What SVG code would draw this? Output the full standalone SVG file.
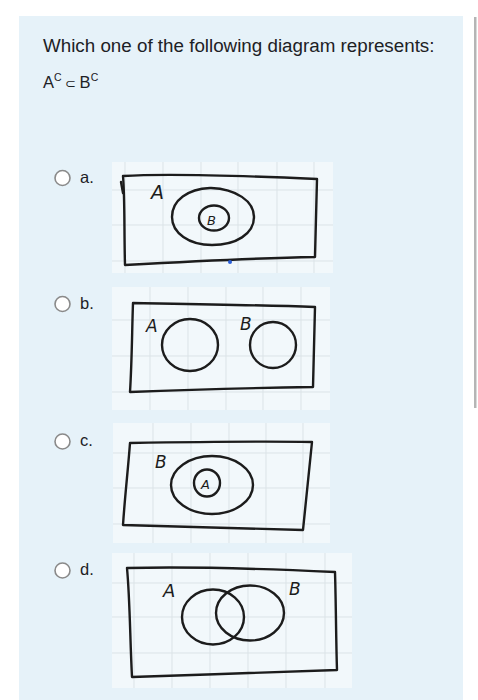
<svg xmlns="http://www.w3.org/2000/svg" width="478" height="700" viewBox="0 0 478 700">
<defs>
<style>
.t{font-family:"Liberation Sans",Arial,sans-serif;fill:#1d2125;}
.radio{fill:#ffffff;stroke:#8a8a8a;stroke-width:1.6;}
.img{fill:#f2f8fb;}
.grid{stroke:#dbe3e7;stroke-width:1;fill:none;}
.ink{fill:none;stroke:#1c1c1c;stroke-width:2.4;stroke-linecap:round;stroke-linejoin:round;}
.hw{font-family:"DejaVu Sans","Liberation Sans",sans-serif;fill:#1c1c1c;font-style:italic;}
</style>
</defs>
<rect x="0" y="0" width="478" height="700" fill="#ffffff"/>
<rect x="19" y="16" width="444" height="684" fill="#e6f2f9"/>
<rect x="474" y="17" width="2.5" height="391" fill="#b5b5b5"/>

<g id="question">
<text class="t" x="43" y="52" font-size="18.8">Which one of the following diagram represents:</text>
<text class="t" x="43" y="88" font-size="16.5">A<tspan font-size="10.5" dy="-7">C</tspan><tspan dy="7" dx="3" font-size="13">⊂</tspan><tspan dx="4">B</tspan><tspan font-size="10.5" dy="-7">C</tspan></text>
</g>

<g id="option-a">
<circle class="radio" cx="62.5" cy="178" r="7.5"/>
<text class="t" x="80" y="183" font-size="16.5">a.</text>
<rect class="img" x="112" y="162" width="221" height="111"/>
<path class="grid" d="M125 162V273M163 162V273M201 162V273M238 162V273M277 162V273M314 162V273M112 190H333M112 225H333M112 261H333"/>
<path class="ink" d="M123 176C170 173 250 176 317 179L315 257C260 258 180 262 125 265C124 230 125 200 123 176Z"/>
<path class="ink" d="M121 182L123 193" stroke-width="4"/>
<path class="ink" d="M211 188C236 189 254 201 254 217C254 234 236 245 212 245C189 245 172 233 172 217C172 200 188 189 210 188"/>
<ellipse class="ink" cx="214" cy="218" rx="15" ry="12.5"/>
<text class="hw" x="207" y="225" font-size="13" font-style="normal">B</text>
<text class="hw" x="151" y="199" font-size="19">A</text>
<circle cx="230" cy="262" r="2" fill="#2b5fd9"/>
</g>

<g id="option-b">
<circle class="radio" cx="62.5" cy="304" r="7.5"/>
<text class="t" x="80" y="309" font-size="16.5">b.</text>
<rect class="img" x="112" y="287" width="218" height="123"/>
<path class="grid" d="M150 287V410M188 287V410M226 287V410M263 287V410M301 287V410M112 320H330M112 356H330M112 392H330"/>
<path class="ink" d="M133 303C190 304 260 305 315 307L313 387C250 388 180 390 130 392C132 360 132 330 133 303Z"/>
<ellipse class="ink" cx="190" cy="345" rx="28" ry="26"/>
<ellipse class="ink" cx="273" cy="345" rx="23" ry="23"/>
<text class="hw" x="146" y="332" font-size="17" font-style="normal">A</text>
<text class="hw" x="240" y="330" font-size="17" font-style="normal">B</text>
</g>

<g id="option-c">
<circle class="radio" cx="62.5" cy="441.5" r="7.5"/>
<text class="t" x="80" y="446" font-size="16.5">c.</text>
<rect class="img" x="113" y="423" width="217" height="120"/>
<path class="grid" d="M153 423V543M191 423V543M229 423V543M266 423V543M303 423V543M113 453H330M113 488H330M113 524H330"/>
<path class="ink" d="M130 443C190 442 260 441 312 442L303 530C240 528 180 527 123 525C125 495 128 470 130 443Z"/>
<ellipse class="ink" cx="212" cy="485" rx="41" ry="29"/>
<ellipse class="ink" cx="207" cy="483" rx="13" ry="13.5"/>
<text class="hw" x="201" y="489" font-size="13" font-style="normal">A</text>
<text class="hw" x="155" y="468" font-size="17" font-style="normal">B</text>
</g>

<g id="option-d">
<circle class="radio" cx="62.5" cy="570.5" r="7.5"/>
<text class="t" x="80" y="575" font-size="16.5">d.</text>
<rect class="img" x="112" y="553" width="240" height="135"/>
<path class="grid" d="M134 553V688M172 553V688M210 553V688M248 553V688M286 553V688M325 553V688M112 583H352M112 617H352M112 653H352"/>
<path class="ink" d="M127 568C200 566 270 569 335 572C336 605 336 640 337 670C270 672 200 675 132 677C130 640 130 600 127 568Z"/>
<ellipse class="ink" cx="213" cy="617" rx="31" ry="27.5"/>
<ellipse class="ink" cx="250" cy="613" rx="34" ry="27.5"/>
<text class="hw" x="163" y="597" font-size="18">A</text>
<text class="hw" x="289" y="595" font-size="17" font-style="normal">B</text>
</g>
</svg>
